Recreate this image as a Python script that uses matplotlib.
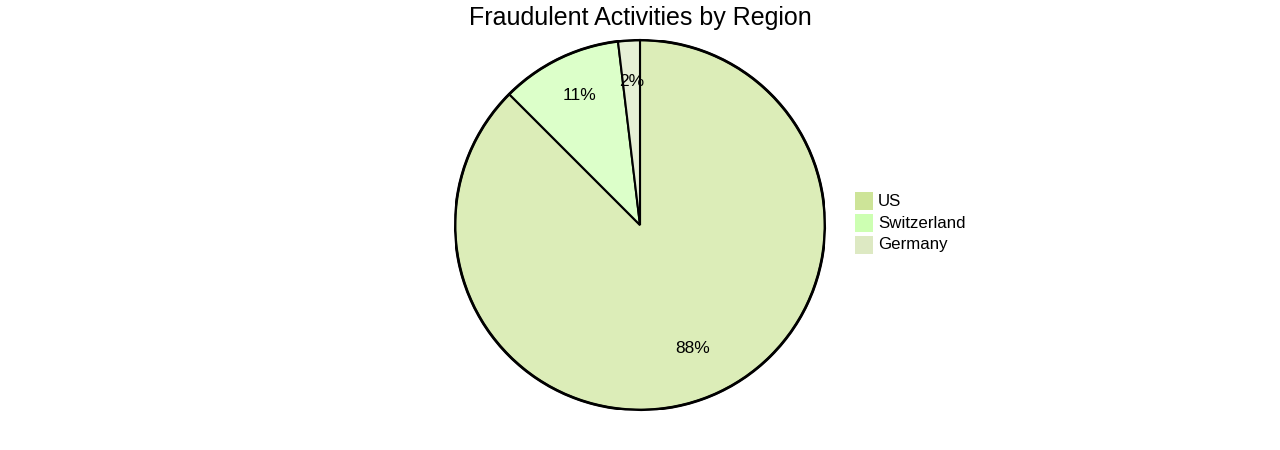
import matplotlib.pyplot as plt
from matplotlib.patches import Rectangle

plt.rcParams['font.family'] = ['Liberation Sans', 'DejaVu Sans']

regions = ['US', 'Switzerland', 'Germany']
shares = [87.5, 10.6, 1.9]
slice_colors = ['#dcedb8', '#dcffc9', '#e6f0d6']
legend_colors = ['#cde498', '#cdffb2', '#dde9c3']

W, H = 1280, 450
fig = plt.figure(figsize=(W / 100, H / 100), dpi=100)

# pie centre (640, 225), radius 185 px
cx, cy, r = 640, 225, 185
ax = fig.add_axes([(cx - r) / W, (H - cy - r) / H, 2 * r / W, 2 * r / H])
wedges, texts, autotexts = ax.pie(
    shares, colors=slice_colors, startangle=90, counterclock=False,
    autopct='%.0f%%', pctdistance=0.75, radius=1,
    wedgeprops=dict(edgecolor='black', linewidth=1.5),
    textprops=dict(fontsize=12.5, color='black'))
for t in autotexts:
    t.set_va('baseline')
ax.add_patch(plt.Circle((0, 0), 1, fill=False, edgecolor='black', linewidth=2))
ax.set_xlim(-1, 1)
ax.set_ylim(-1, 1)
ax.set_aspect('equal')
ax.axis('off')

fig.text(0.5, 1 - 18 / H, 'Fraudulent Activities by Region', ha='center', va='center',
         fontsize=18)

# legend
for i, (name, col) in enumerate(zip(regions, legend_colors)):
    y = 201 + 22 * i
    fig.add_artist(Rectangle((855 / W, 1 - (y + 9) / H), 18 / W, 18 / H,
                             transform=fig.transFigure, facecolor=col, edgecolor='none'))
    fig.text(878 / W, 1 - y / H, name, ha='left', va='center', fontsize=12.2)

fig.savefig('out.png', dpi=100)
